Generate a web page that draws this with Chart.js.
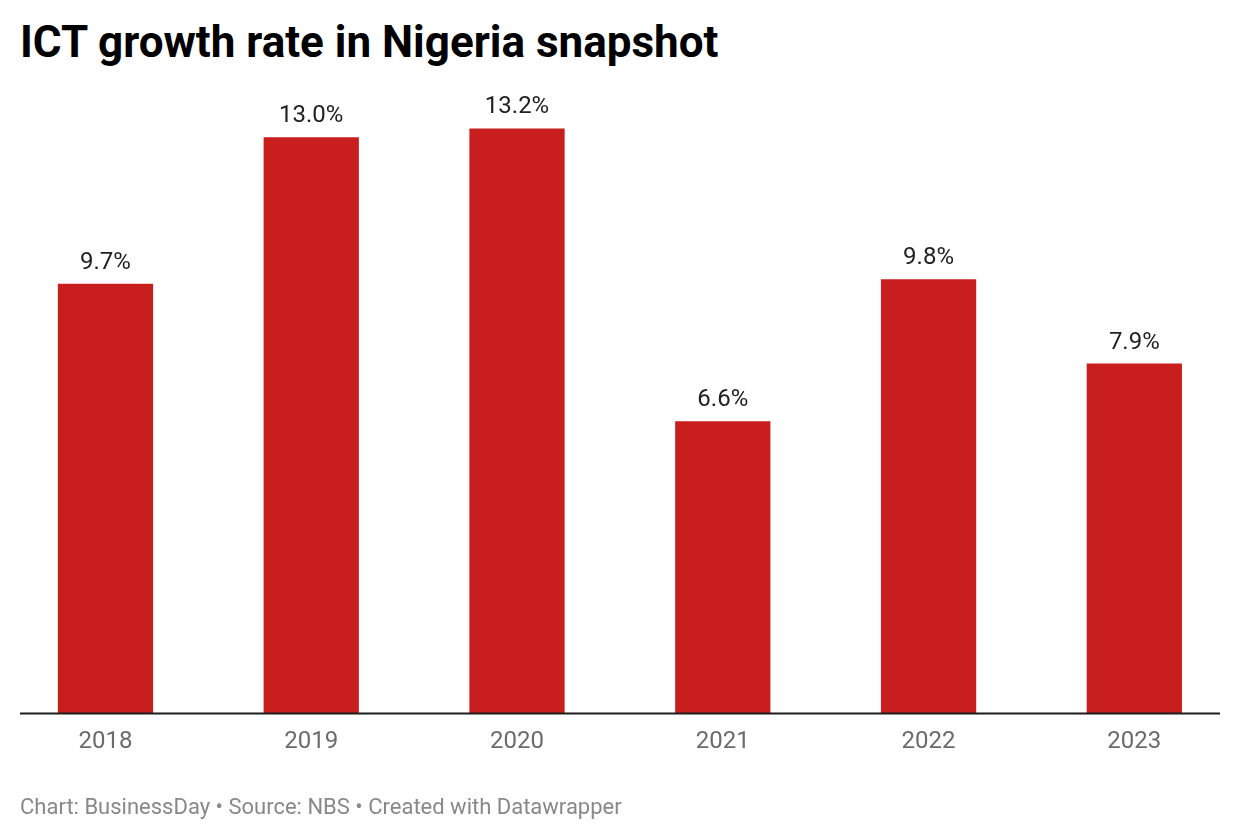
<!DOCTYPE html>
<html>
<head>
<meta charset="utf-8">
<script src="https://cdn.jsdelivr.net/npm/chart.js@4"></script>
<style>
  html, body { margin: 0; padding: 0; background: #fff; }
  #wrap { position: relative; width: 1240px; height: 840px; overflow: hidden; }
  #titulo { position: absolute; left: 20px; top: 16px; margin: 0; font: bold 44px Roboto, sans-serif; color: #000; line-height: 1.2; }
  #rodape { position: absolute; left: 20px; top: 794px; font: 22px Roboto, sans-serif; color: #888; line-height: 1.2; }
  canvas { position: absolute; left: 0; top: 0; }
</style>
</head>
<body>
<div id="wrap">
  <h1 id="titulo">ICT growth rate in Nigeria snapshot</h1>
  <canvas id="grafico" width="1240" height="840"></canvas>
  <div id="rodape">Chart: BusinessDay • Source: NBS • Created with Datawrapper</div>
</div>
<script>
// dados
const anos = ["2018", "2019", "2020", "2021", "2022", "2023"];
const crescimento = [9.7, 13.0, 13.2, 6.6, 9.8, 7.9];
const rotulos = ["9.7%", "13.0%", "13.2%", "6.6%", "9.8%", "7.9%"];

const corBarra = "#c81e1e";

// rótulos acima das barras + linha de base
const extras = {
  id: "extras",
  afterDatasetsDraw(chart) {
    const ctx = chart.ctx;
    const meta = chart.getDatasetMeta(0);
    ctx.save();
    ctx.font = "24px Roboto";
    ctx.fillStyle = "#222";
    ctx.textAlign = "center";
    ctx.textBaseline = "alphabetic";
    meta.data.forEach((bar, i) => {
      ctx.fillText(rotulos[i], bar.x, bar.y - 15);
    });
    const y0 = chart.scales.y.getPixelForValue(0);
    ctx.strokeStyle = "#1d1d1d";
    ctx.lineWidth = 2;
    ctx.beginPath();
    ctx.moveTo(20, y0 - 0.5);
    ctx.lineTo(1220, y0 - 0.5);
    ctx.stroke();
    ctx.restore();
  }
};

new Chart(document.getElementById("grafico"), {
  type: "bar",
  data: {
    labels: anos,
    datasets: [{
      data: crescimento,
      backgroundColor: corBarra,
      categoryPercentage: 1,
      barPercentage: 0.463
    }]
  },
  options: {
    responsive: false,
    animation: false,
    layout: { padding: { left: 2.6, right: 2.8, top: 93, bottom: 0 } },
    plugins: {
      legend: { display: false },
      tooltip: { enabled: false }
    },
    scales: {
      x: {
        grid: { display: false, drawTicks: false },
        border: { display: false },
        ticks: { color: "#6b6b6b", font: { family: "Roboto", size: 24 }, padding: 14 },
        afterFit(scale) { scale.height = 126; }
      },
      y: {
        display: false,
        min: 0,
        max: 14
      }
    }
  },
  plugins: [extras]
});
</script>
</body>
</html>
